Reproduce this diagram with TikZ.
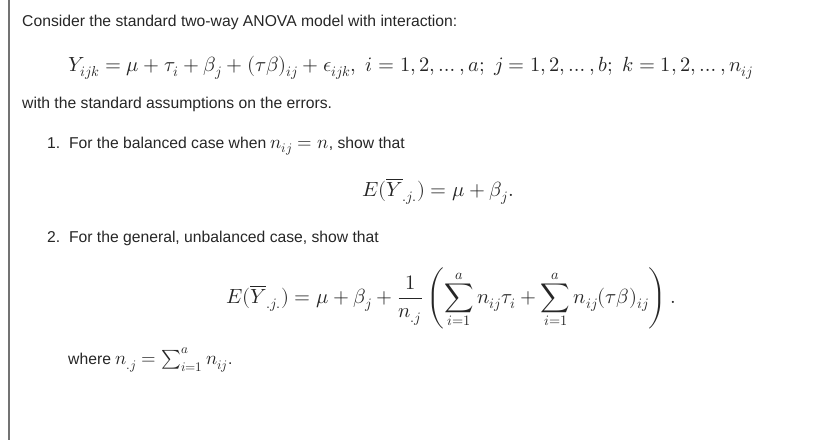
\documentclass[tikz,border=0pt]{standalone}
\usepackage{amsmath}
\usepackage{fontspec}
\setmainfont{Liberation Sans}
\usepackage{unicode-math}
\setmathfont{Latin Modern Math}
\colorlet{txtgray}{black!85}
\newcommand{\inm}[1]{{\fontsize{16}{17}\selectfont$#1$}}
\tikzstyle{line}=[anchor=west,inner sep=0,text=txtgray,font=\fontsize{13.4}{17}\selectfont]
\tikzstyle{formula}=[inner sep=0,text=txtgray,font=\fontsize{17.5}{20}\selectfont]

\begin{document}
\begin{tikzpicture}[x=0.03cm,y=-0.03cm]
    \useasboundingbox (0,0) rectangle (840,440);
    \draw[black!55,line width=1.2pt] (9,0)--(9,440);

    \node[line] (intro) at (22,22) {Consider the standard two-way ANOVA model with interaction:};
    \node[formula,anchor=west] (model) at (68,68) {$Y_{ijk}=\mu+\tau_i+\beta_j+(\tau\beta)_{ij}+\epsilon_{ijk},\ i=1,2,\ldots,a;\ j=1,2,\ldots,b;\ k=1,2,\ldots,n_{ij}$};
    \node[line] (assume) at (22,104) {with the standard assumptions on the errors.};

    \node[line] (partA) at (47,146) {1.\ \ For the balanced case when \inm{n_{ij}=n}, show that};
    \node[formula] (resA) at (438,191) {$E(\overline{Y}_{.j.})=\mu+\beta_j.$};

    \node[line] (partB) at (47,238) {2.\ \ For the general, unbalanced case, show that};
    \node[formula] (resB) at (451,298) {$\displaystyle E(\overline{Y}_{.j.})=\mu+\beta_j+\frac{1}{n_{.j}}\left(\sum_{i=1}^{a}n_{ij}\tau_i+\sum_{i=1}^{a}n_{ij}(\tau\beta)_{ij}\right).$};

    \node[line] (where) at (68,360) {where \inm{n_{.j}=\sum_{i=1}^{a}n_{ij}}.};
\end{tikzpicture}
\end{document}
